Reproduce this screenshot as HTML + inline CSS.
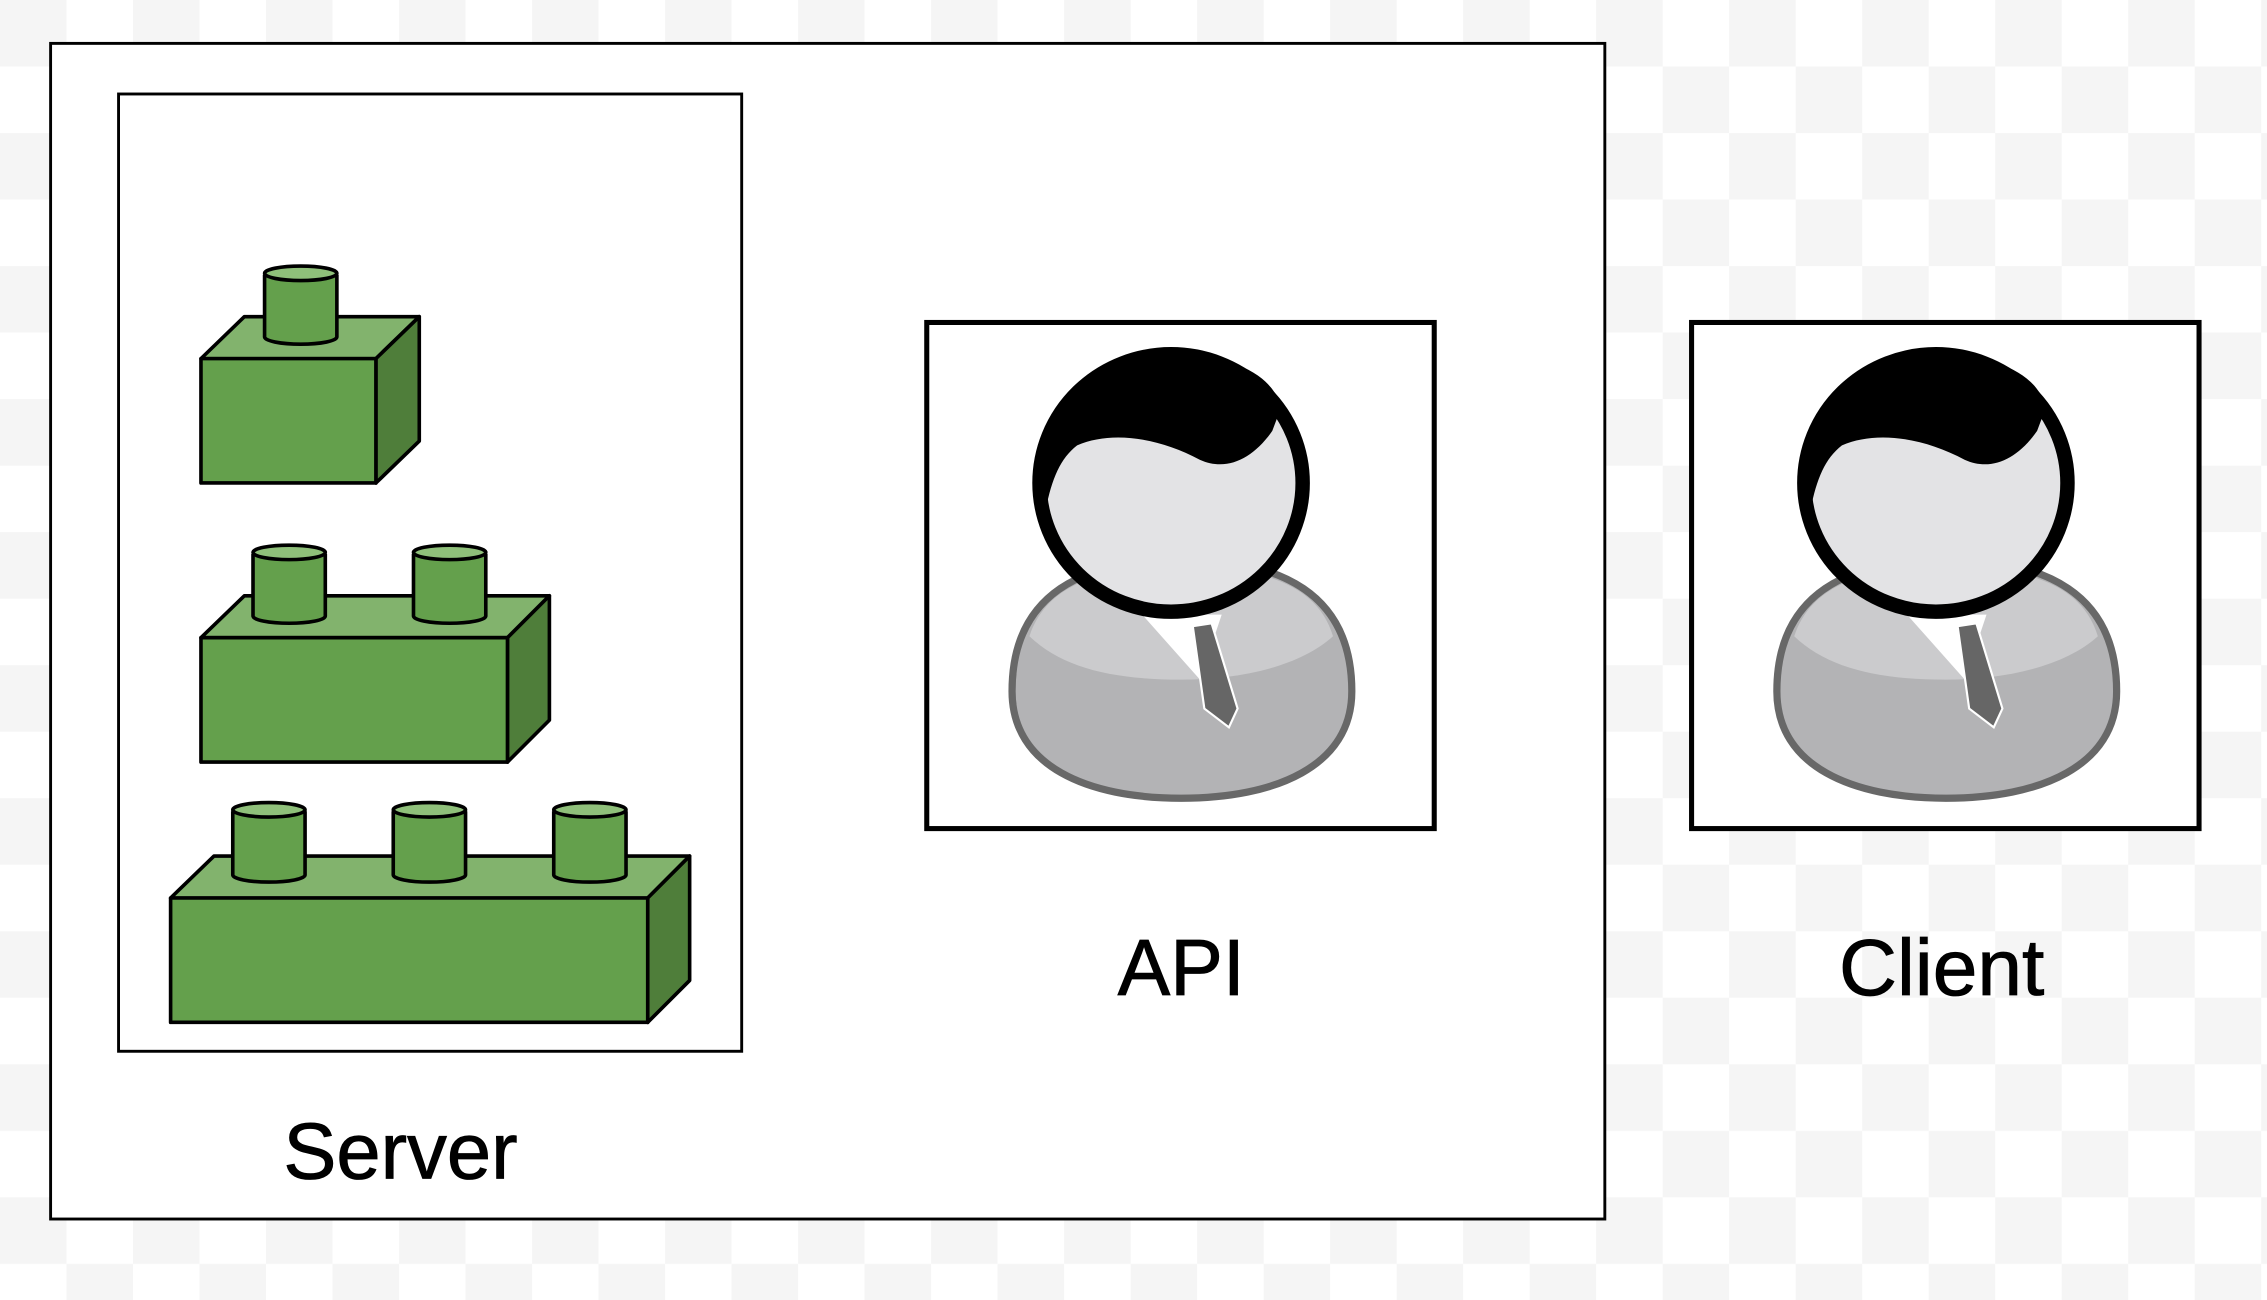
<!DOCTYPE html>
<html><head><meta charset="utf-8"><style>
html,body{margin:0;padding:0;background:#fff;}
svg{display:block;}
text{font-family:"Liberation Sans",Arial,sans-serif;fill:#000;}
</style></head><body>
<svg width="2267" height="1300" viewBox="0 0 1568 899" preserveAspectRatio="none" xmlns="http://www.w3.org/2000/svg">
<defs>
<pattern id="chk" width="92" height="92" patternUnits="userSpaceOnUse">
<rect width="92" height="92" fill="#fff"/>
<rect width="46" height="46" fill="#f5f5f5"/>
<rect x="46" y="46" width="46" height="46" fill="#f5f5f5"/>
</pattern>
<g id="person">
<path d="M700,478 C700,410 750,387 817,387 C885,387 935,410 935,478 C935,530 882,552 817,552 C752,552 700,530 700,478 Z" fill="#b3b3b5" stroke="#686868" stroke-width="5"/>
<path d="M712,440 C725,400 770,392 817,392 C865,392 910,400 922,440 C900,460 860,470 817,470 C770,470 735,462 712,440 Z" fill="#cbcbcd"/>
<path d="M790,425 L845,425 L830,470 Z" fill="#fff"/>
<path d="M825,433 L838,431 L856,490 L850,503 L833,490 Z" fill="#666" stroke="#fff" stroke-width="1.5"/>
<ellipse cx="810" cy="334" rx="91" ry="89" fill="#e3e3e5" stroke="#000" stroke-width="10"/>
<path d="M716,352 C710,290 750,246 800,245 C845,243 880,256 886,282 L880,298 C866,318 848,326 830,318 C800,302 768,298 745,308 C732,318 726,335 722,360 Z" fill="#000"/>
</g>
</defs>
<rect width="1568" height="899" fill="url(#chk)"/>
<rect x="35" y="30" width="1075" height="813" fill="#fff" stroke="#000" stroke-width="2"/>
<rect x="82" y="65" width="431" height="662" fill="#fff" stroke="#000" stroke-width="2"/>
<g stroke="#000" stroke-width="2.5" stroke-linejoin="round">
<polygon points="139,248 169,219 290,219 260,248" fill="#82b36d"/>
<polygon points="260,248 290,219 290,305 260,334" fill="#4f7e3a"/>
<rect x="139" y="248" width="121" height="86" fill="#64a04c"/>
<path d="M183,190 L183,233 A25,5 0 0 0 233,233 L233,190" fill="#64a04c"/>
<ellipse cx="208" cy="189" rx="25" ry="5" fill="#8fc07a"/>
<polygon points="139,441 169,412 380,412 351,441" fill="#82b36d"/>
<polygon points="351,441 380,412 380,498 351,527" fill="#4f7e3a"/>
<rect x="139" y="441" width="212" height="86" fill="#64a04c"/>
<path d="M175,383 L175,426 A25,5 0 0 0 225,426 L225,383" fill="#64a04c"/>
<ellipse cx="200" cy="382" rx="25" ry="5" fill="#8fc07a"/>
<path d="M286,383 L286,426 A25,5 0 0 0 336,426 L336,383" fill="#64a04c"/>
<ellipse cx="311" cy="382" rx="25" ry="5" fill="#8fc07a"/>
<polygon points="118,621 148,592 477,592 448,621" fill="#82b36d"/>
<polygon points="448,621 477,592 477,678 448,707" fill="#4f7e3a"/>
<rect x="118" y="621" width="330" height="86" fill="#64a04c"/>
<path d="M161,561 L161,605 A25,5 0 0 0 211,605 L211,561" fill="#64a04c"/>
<ellipse cx="186" cy="560" rx="25" ry="5" fill="#8fc07a"/>
<path d="M272,561 L272,605 A25,5 0 0 0 322,605 L322,561" fill="#64a04c"/>
<ellipse cx="297" cy="560" rx="25" ry="5" fill="#8fc07a"/>
<path d="M383,561 L383,605 A25,5 0 0 0 433,605 L433,561" fill="#64a04c"/>
<ellipse cx="408" cy="560" rx="25" ry="5" fill="#8fc07a"/>
</g>
<rect x="641" y="223" width="351" height="350" fill="#fff" stroke="#000" stroke-width="3.5"/>
<use href="#person"/>
<rect x="1170" y="223" width="351" height="350" fill="#fff" stroke="#000" stroke-width="3.5"/>
<use href="#person" x="529"/>
<text x="196" y="815" font-size="55" textLength="162" lengthAdjust="spacingAndGlyphs" stroke="#000" stroke-width="0.6">Server</text>
<text x="773" y="688" font-size="55" textLength="88" lengthAdjust="spacingAndGlyphs" stroke="#000" stroke-width="0.6">API</text>
<text x="1272" y="688" font-size="55" textLength="142" lengthAdjust="spacingAndGlyphs" stroke="#000" stroke-width="0.6">Client</text>
</svg>
</body></html>
